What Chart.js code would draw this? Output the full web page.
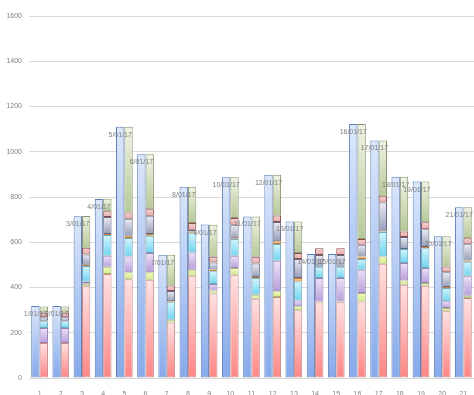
<!DOCTYPE html>
<html>
<head>
<meta charset="utf-8">
<script src="https://cdn.jsdelivr.net/npm/chart.js@4"></script>
<style>
  body { margin: 0; background: #fff; }
  canvas { display: block; }
</style>
</head>
<body>
<canvas id="stackChart" width="474" height="395"></canvas>
<script>
const categories = ['1', '2', '3', '4', '5', '6', '7', '8', '9', '10', '11', '12', '13', '14', '15', '16', '17', '18', '19', '20', '21'];
const dateLabels = ['1/01/17', '2/01/17', '3/01/17', '4/01/17', '5/01/17', '6/01/17', '7/01/17', '8/01/17', '9/01/17', '10/01/17', '11/01/17',
                    '12/01/17', '13/01/17', '14/01/17', '15/01/17', '16/01/17', '17/01/17', '18/01/17', '19/01/17', '20/01/17', '21/01/17'];
const yTicks = [0, 200, 400, 600, 800, 1000, 1200, 1400, 1600];

// left bar of each pair
const totals = [318, 318, 715, 791, 1110, 989, 545, 845, 678, 887, 714, 898, 692, 548, 548, 1123, 1050, 890, 868, 626, 755];

// right bar, bottom to top
const red    = [155, 155, 405, 460, 437, 434, 245, 452, 373, 456, 350, 358, 300, 335, 335, 338, 505, 412, 408, 295, 354];
const lime   = [0, 0, 12, 32, 30, 33, 12, 27, 14, 30, 18, 25, 17, 3, 3, 38, 32, 19, 12, 14, 10];
const purple = [66, 66, 8, 48, 70, 85, 0, 76, 28, 54, 0, 135, 26, 104, 104, 103, 0, 77, 66, 30, 88];
const cyan   = [30, 30, 70, 92, 82, 77, 78, 87, 57, 74, 74, 74, 84, 50, 50, 47, 108, 62, 88, 59, 62];
const orange = [2, 2, 6, 5, 10, 8, 4, 5, 8, 4, 4, 12, 15, 0, 0, 11, 3, 0, 5, 4, 5];
const slate  = [15, 15, 45, 75, 75, 80, 45, 8, 30, 59, 60, 85, 84, 52, 52, 52, 128, 53, 79, 65, 74];
const pink   = [20, 20, 30, 25, 28, 29, 25, 30, 26, 30, 30, 29, 26, 30, 30, 25, 29, 25, 30, 26, 25];
const green  = [28, 28, 140, 55, 378, 243, 136, 160, 141, 180, 178, 180, 140, 0, 0, 509, 245, 242, 180, 133, 137];

const stackSeries = [red, lime, purple, cyan, orange, slate, pink, green];
const stackColors = [
  { top: '#ffe2e2', bottom: '#ff8585', border: '#c98a8a' },
  { top: '#f2f9c8', bottom: '#d2ea7e', border: '#a9b878' },
  { top: '#ece2f7', bottom: '#b89ddc', border: '#9683b2' },
  { top: '#d6f5fd', bottom: '#6cd4f1', border: '#6fa8b8' },
  { top: '#fbd3a0', bottom: '#f0a04e', border: '#c0843e' },
  { top: '#eceef5', bottom: '#959cb6', border: '#636883' },
  { top: '#f6d4d4', bottom: '#e6a8a8', border: '#8c4c4c' },
  { top: '#eff3e4', bottom: '#b7c898', border: '#8a9872' }
];
const blueColor = { top: '#dbe7fb', bottom: '#86a9ea', border: '#5f7fb8' };

// vertical gradient for one segment, built from the segment's own value range
function segmentFill(colors, lowerOf, upperOf) {
  return (ctx) => {
    const chart = ctx.chart;
    if (ctx.type !== 'data' || !chart.chartArea) return colors.bottom;
    const y = chart.scales.y;
    const j = ctx.dataIndex;
    const yTop = y.getPixelForValue(upperOf(j));
    const yBot = y.getPixelForValue(lowerOf(j));
    if (!isFinite(yTop) || !isFinite(yBot) || yTop === yBot) return colors.bottom;
    const g = chart.ctx.createLinearGradient(0, yTop, 0, yBot);
    g.addColorStop(0, colors.top);
    g.addColorStop(1, colors.bottom);
    return g;
  };
}

function baseOf(k, j) {
  let s = 0;
  for (let i = 0; i < k; i++) s += stackSeries[i][j];
  return s;
}

const datasets = [{
  label: 'Total',
  data: totals,
  stack: 'left',
  backgroundColor: segmentFill(blueColor, () => 0, (j) => totals[j]),
  borderColor: blueColor.border,
  borderWidth: 1,
  borderSkipped: false
}];

stackSeries.forEach((values, k) => {
  datasets.push({
    label: 'S' + (k + 1),
    data: values.map(v => v === 0 ? null : v),
    stack: 'right',
    backgroundColor: segmentFill(stackColors[k], (j) => baseOf(k, j), (j) => baseOf(k, j) + values[j]),
    borderColor: stackColors[k].border,
    borderWidth: 1,
    borderSkipped: false
  });
});

const dateLabelPlugin = {
  id: 'dateLabels',
  afterDatasetsDraw(chart) {
    const c = chart.ctx;
    const meta = chart.getDatasetMeta(0);
    c.save();
    c.font = '7px "Liberation Sans", Arial, sans-serif';
    c.fillStyle = '#7f7f7f';
    c.textAlign = 'center';
    c.textBaseline = 'middle';
    meta.data.forEach((bar, i) => {
      c.fillText(dateLabels[i], bar.x, bar.y + 8);
    });
    c.restore();
  }
};

const tickFont = { family: '"Liberation Sans", Arial, sans-serif', size: 7 };

new Chart(document.getElementById('stackChart').getContext('2d'), {
  type: 'bar',
  data: { labels: categories, datasets: datasets },
  plugins: [dateLabelPlugin],
  options: {
    responsive: false,
    animation: false,
    devicePixelRatio: 1,
    categoryPercentage: 0.79,
    barPercentage: 1.0,
    layout: { padding: { top: 16, right: 0, bottom: 0, left: 0 } },
    plugins: { legend: { display: false }, tooltip: { enabled: false } },
    scales: {
      x: {
        stacked: true,
        grid: { display: false },
        border: { color: '#d9d9d9' },
        ticks: { color: '#7f7f7f', font: tickFont, padding: 4, maxRotation: 0, autoSkip: false },
        afterFit: (scale) => { scale.height = 17; }
      },
      y: {
        stacked: true,
        min: 0,
        max: 1600,
        afterBuildTicks: (scale) => { scale.ticks = yTicks.map(v => ({ value: v })); },
        grid: { color: '#d9d9d9', drawTicks: false },
        border: { display: false },
        ticks: { color: '#7f7f7f', font: tickFont, padding: 7, callback: (v) => String(v) },
        afterFit: (scale) => { scale.width = 29; }
      }
    }
  }
});
</script>
</body>
</html>
